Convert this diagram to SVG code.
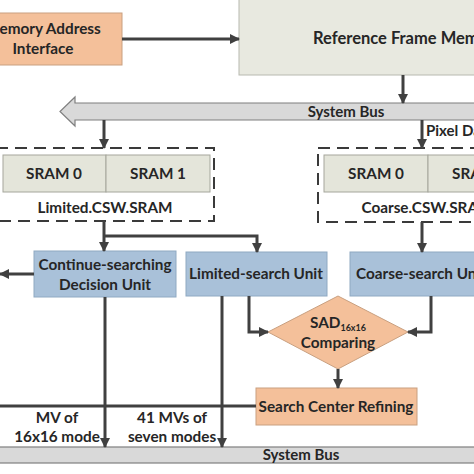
<svg xmlns="http://www.w3.org/2000/svg" width="474" height="474" viewBox="0 0 474 474">
<style>
text{font-family:Lato,"Open Sans","Liberation Sans",sans-serif;font-weight:bold;fill:#262626;font-size:15.3px}
.c{text-anchor:middle}
.orange{fill:#f4c09a;stroke:#c9a080;stroke-width:1}
.blue{fill:#a9c1d9;stroke:#8fa9c2;stroke-width:1}
.cell{fill:#e4e5da;stroke:#a5a69c;stroke-width:1}
.ref{fill:#e8e9e0;stroke:#b8b9b0;stroke-width:1}
.bus{fill:#d9d9d9;stroke:#7f7f7f;stroke-width:1.2}
.dash{fill:none;stroke:#3a3a3a;stroke-width:2;stroke-dasharray:12 7}
.ln{fill:none;stroke:#404040;stroke-width:3}
.bt{font-size:15px}
</style>
<defs>
<marker id="ah" markerUnits="userSpaceOnUse" markerWidth="10" markerHeight="10" refX="9" refY="5" orient="auto">
<path d="M0,0 L10,5 L0,10 z" fill="#404040"/>
</marker>
</defs>
<rect width="474" height="474" fill="#ffffff"/>

<g id="memory-address-interface">
<rect class="orange" x="-36" y="13" width="158" height="52"/>
<text class="c" x="43" y="34">Memory Address</text>
<text class="c" x="43" y="54">Interface</text>
</g>

<g id="reference-frame-memory">
<rect class="ref" x="239" y="-2" width="260" height="77"/>
<text x="313" y="44" style="font-size:16.5px">Reference Frame Memory</text>
</g>

<g id="system-bus-top">
<polygon class="bus" points="480,103 75,103 75,97 60,111.5 75,126 75,120 480,120"/>
<text class="c bt" x="346" y="117">System Bus</text>
</g>

<g id="pixel-data-label">
<text x="426" y="136" class="bt">Pixel Data</text>
</g>

<g id="limited-csw-sram">
<rect class="dash" x="-4" y="148" width="218" height="73"/>
<rect class="cell" x="3" y="155" width="103" height="37"/>
<rect class="cell" x="106" y="155" width="104" height="37"/>
<text class="c" x="54" y="179">SRAM 0</text>
<text class="c" x="158" y="179">SRAM 1</text>
<text class="c" x="105" y="213">Limited.CSW.SRAM</text>
</g>

<g id="coarse-csw-sram">
<rect class="dash" x="318" y="148" width="220" height="74"/>
<rect class="cell" x="324" y="155" width="104" height="37"/>
<rect class="cell" x="428" y="155" width="104" height="37"/>
<text class="c" x="376" y="179">SRAM 0</text>
<text class="c" x="480" y="179">SRAM 1</text>
<text class="c" x="427" y="213">Coarse.CSW.SRAM</text>
</g>

<g id="continue-searching-decision-unit">
<rect class="blue" x="34" y="251" width="142" height="46"/>
<text class="c" x="105" y="270">Continue-searching</text>
<text class="c" x="105" y="290">Decision Unit</text>
</g>

<g id="limited-search-unit">
<rect class="blue" x="186" y="252" width="141" height="44"/>
<text class="c" x="256" y="279">Limited-search Unit</text>
</g>

<g id="coarse-search-unit">
<rect class="blue" x="350" y="252" width="142" height="44"/>
<text class="c" x="421" y="279">Coarse-search Unit</text>
</g>

<g id="sad-comparing">
<polygon class="orange" points="338,296 408,332 338,369 268,332"/>
<text class="c" x="338" y="328">SAD<tspan style="font-size:9px" dy="3">16x16</tspan></text>
<text class="c" x="338" y="348">Comparing</text>
</g>

<g id="search-center-refining">
<rect class="orange" x="256" y="388" width="161" height="37"/>
<text class="c" x="336" y="412">Search Center Refining</text>
</g>

<g id="system-bus-bottom">
<rect class="bus" x="-2" y="447" width="478" height="16"/>
<text class="c bt" x="301" y="460">System Bus</text>
</g>

<g id="mv-labels">
<text class="c" x="57" y="423">MV of</text>
<text class="c" x="57" y="442">16x16 mode</text>
<text class="c" x="172" y="423">41 MVs of</text>
<text class="c" x="172" y="442">seven modes</text>
</g>

<g id="connectors">
<path class="ln" d="M122,39 H239" marker-end="url(#ah)"/>
<path class="ln" d="M403,75 V103" marker-end="url(#ah)"/>
<path class="ln" d="M104,120 V148" marker-end="url(#ah)"/>
<path class="ln" d="M422,120 V148" marker-end="url(#ah)"/>
<path class="ln" d="M104,221 V251" marker-end="url(#ah)"/>
<path class="ln" d="M104,236 H257 V252" marker-end="url(#ah)"/>
<path class="ln" d="M422,222 V252" marker-end="url(#ah)"/>
<path class="ln" d="M34,274 H0" marker-end="url(#ah)"/>
<path class="ln" d="M105,297 V447" marker-end="url(#ah)"/>
<path class="ln" d="M222,296 V447" marker-end="url(#ah)"/>
<path class="ln" d="M249,296 V332 H268" marker-end="url(#ah)"/>
<path class="ln" d="M431,296 V332 H408" marker-end="url(#ah)"/>
<path class="ln" d="M338,369 V388" marker-end="url(#ah)"/>
<path class="ln" d="M0,406 H256"/>
</g>
</svg>
